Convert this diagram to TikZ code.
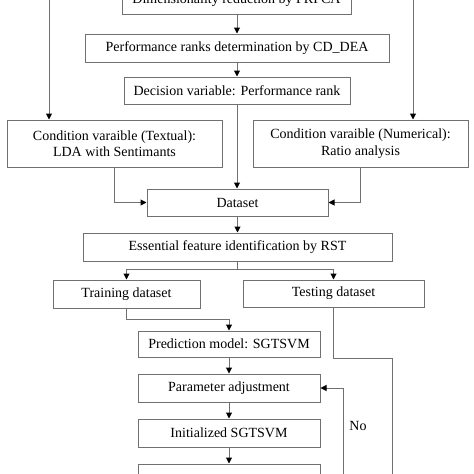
\documentclass[tikz,border=0pt]{standalone}
\usepackage{fontspec}
\setmainfont{Liberation Serif}
\usetikzlibrary{arrows.meta}
\definecolor{linegray}{HTML}{707070}
\begin{document}
\begin{tikzpicture}[x=1pt,y=-1pt,
  box/.style={draw=linegray,line width=1pt,fill=white,inner sep=0pt,align=center,font=\fontsize{14}{16.5}\selectfont},
  conn/.style={draw=linegray,line width=1pt},
  arr/.style={conn,-{Triangle[length=6pt,width=6pt,color=black]}}]
\useasboundingbox (0,0) rectangle (474,474);
\clip (0,0) rectangle (474,474);
\node[box,minimum width=229pt,minimum height=28pt] (dim) at (236.5,0) {Dimensionality reduction by FRPCA};
\node[box,minimum width=304pt,minimum height=28pt] (perf) at (237,48) {Performance ranks determination by CD\_DEA};
\node[box,minimum width=226pt,minimum height=27pt] (dec) at (237,90.5) {Decision variable: Performance rank};
\node[box,minimum width=215pt,minimum height=47pt] (lc) at (114.5,143.5) {Condition varaible (Textual):\\LDA with Sentimants};
\node[box,minimum width=215pt,minimum height=47pt] (rc) at (360.5,143.5) {Condition varaible (Numerical):\\Ratio analysis};
\node[box,minimum width=181pt,minimum height=27pt] (ds) at (237.5,202.5) {Dataset};
\node[box,minimum width=309pt,minimum height=28pt] (ess) at (237.5,247) {Essential feature identification by RST};
\node[box,minimum width=147pt,minimum height=28pt] (train) at (126.5,294) {Training dataset};
\node[box,minimum width=181pt,minimum height=27pt] (test) at (333.5,293.5) {Testing dataset};
\node[box,minimum width=182pt,minimum height=26pt] (pred) at (229,344) {Prediction model: SGTSVM};
\node[box,minimum width=182pt,minimum height=28pt] (param) at (229,388) {Parameter adjustment};
\node[box,minimum width=182pt,minimum height=28pt] (init) at (229,433) {Initialized SGTSVM};
\node[box,minimum width=182pt,minimum height=28pt] (last) at (229,478) {};
\node[font=\fontsize{14}{16}\selectfont] (no) at (358,426) {No};
\coordinate (ltop) at (49,-5);
\coordinate (rtop) at (413,-5);
\coordinate (tbot) at (392,480);
\coordinate (nbot) at (343,480);
% connectors
\draw[arr] (dim.south -| perf.north) -- (perf.north);
\draw[arr] (perf.south) -- (perf.south |- dec.north);
\draw[arr] (dec.south) -- (dec.south |- ds.north);
\draw[arr] (ltop) -- (ltop |- lc.north);
\draw[arr] (rtop) -- (rtop |- rc.north);
\draw[arr] (lc.south) |- (ds.west);
\draw[arr] (rc.south) |- (ds.east);
\draw[arr] (ds.south) -- (ds.south |- ess.north);
\draw[conn] (ess.south) -- (237.5,269);
\draw[arr] (237.5,269) -| (train.north);
\draw[arr] (237.5,269) -| (test.north);
\draw[arr] (train.south) |- (229,319) -- (pred.north);
\draw[arr] (pred.south) -- (param.north);
\draw[arr] (param.south) -- (init.north);
\draw[arr] (init.south) -- (last.north);
\draw[conn] (test.south) |- (392,358) -- (tbot);
\draw[arr] (nbot) |- (param.east);
\end{tikzpicture}
\end{document}
